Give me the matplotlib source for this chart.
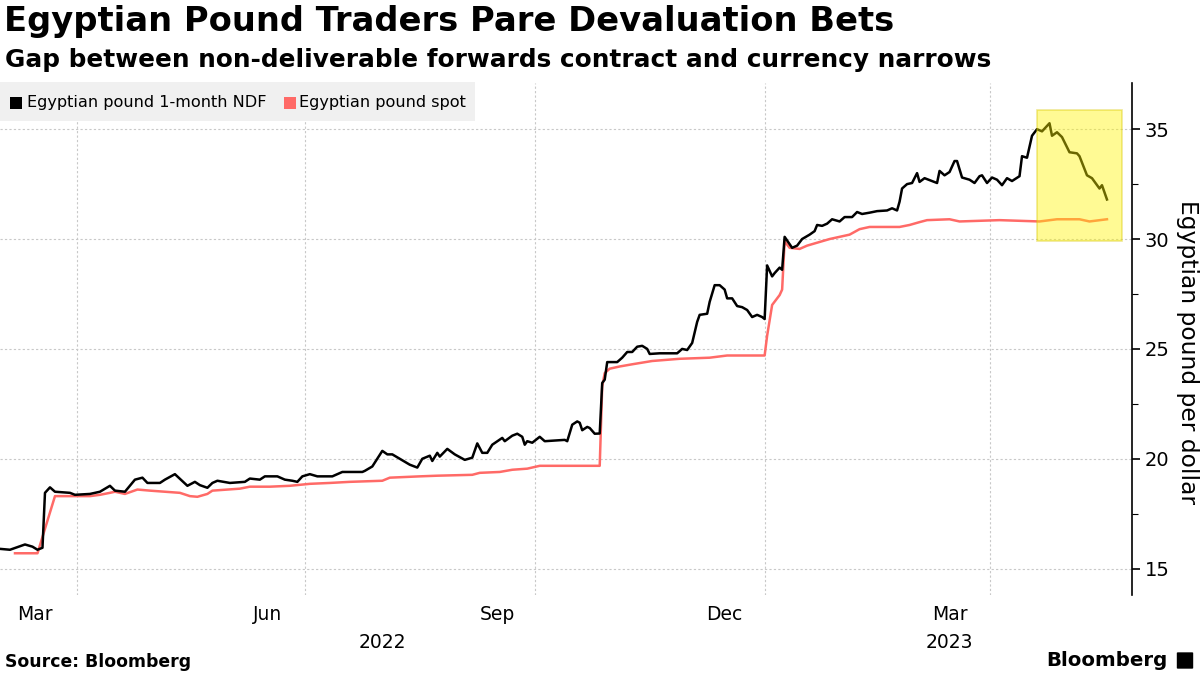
import numpy as np
import pandas as pd
import matplotlib
matplotlib.use('Agg')
import matplotlib.pyplot as plt
import matplotlib.dates as mdates
from matplotlib.patches import Rectangle, FancyBboxPatch

# Egyptian pound 1-month NDF (EGP per USD)
ndf_dates = ['2022-03-01', '2022-03-05', '2022-03-11', '2022-03-14', '2022-03-16', '2022-03-18',
             '2022-03-19', '2022-03-21', '2022-03-23', '2022-03-29', '2022-03-31', '2022-04-06',
             '2022-04-10', '2022-04-14', '2022-04-16', '2022-04-20', '2022-04-24', '2022-04-27',
             '2022-04-29', '2022-05-04', '2022-05-06', '2022-05-10', '2022-05-15', '2022-05-18',
             '2022-05-20', '2022-05-23', '2022-05-25', '2022-05-27', '2022-06-01', '2022-06-07',
             '2022-06-09', '2022-06-13', '2022-06-15', '2022-06-20', '2022-06-23', '2022-06-26',
             '2022-06-28', '2022-06-30', '2022-07-03', '2022-07-06', '2022-07-12', '2022-07-16',
             '2022-07-24', '2022-07-25', '2022-07-28', '2022-08-01', '2022-08-03', '2022-08-05',
             '2022-08-08', '2022-08-12', '2022-08-15', '2022-08-17', '2022-08-20', '2022-08-21',
             '2022-08-23', '2022-08-24', '2022-08-27', '2022-08-30', '2022-09-03', '2022-09-06',
             '2022-09-08', '2022-09-10', '2022-09-12', '2022-09-14', '2022-09-18', '2022-09-19',
             '2022-09-22', '2022-09-24', '2022-09-26', '2022-09-27', '2022-09-28', '2022-09-30',
             '2022-10-03', '2022-10-05', '2022-10-13', '2022-10-14', '2022-10-16', '2022-10-18',
             '2022-10-19', '2022-10-20', '2022-10-22', '2022-10-23', '2022-10-25', '2022-10-27',
             '2022-10-28', '2022-10-29', '2022-10-30', '2022-11-03', '2022-11-05', '2022-11-07',
             '2022-11-09', '2022-11-11', '2022-11-13', '2022-11-15', '2022-11-16', '2022-11-20',
             '2022-11-27', '2022-11-29', '2022-12-01', '2022-12-03', '2022-12-05', '2022-12-06',
             '2022-12-09', '2022-12-10', '2022-12-12', '2022-12-14', '2022-12-16', '2022-12-17',
             '2022-12-19', '2022-12-21', '2022-12-23', '2022-12-25', '2022-12-27', '2022-12-29',
             '2022-12-31', '2023-01-01', '2023-01-02', '2023-01-04', '2023-01-05', '2023-01-07',
             '2023-01-08', '2023-01-09', '2023-01-12', '2023-01-14', '2023-01-16', '2023-01-19',
             '2023-01-21', '2023-01-22', '2023-01-24', '2023-01-26', '2023-01-28', '2023-01-31',
             '2023-02-02', '2023-02-05', '2023-02-07', '2023-02-09', '2023-02-12', '2023-02-15',
             '2023-02-19', '2023-02-21', '2023-02-23', '2023-02-24', '2023-02-25', '2023-02-27',
             '2023-03-01', '2023-03-03', '2023-03-04', '2023-03-06', '2023-03-11', '2023-03-12',
             '2023-03-14', '2023-03-16', '2023-03-18', '2023-03-19', '2023-03-21', '2023-03-24',
             '2023-03-26', '2023-03-28', '2023-03-29', '2023-03-31', '2023-04-02', '2023-04-04',
             '2023-04-06', '2023-04-08', '2023-04-10', '2023-04-13', '2023-04-14', '2023-04-16',
             '2023-04-18', '2023-04-20', '2023-04-22', '2023-04-25', '2023-04-26', '2023-04-28',
             '2023-04-30', '2023-05-03', '2023-05-06', '2023-05-07', '2023-05-10', '2023-05-12',
             '2023-05-15', '2023-05-16', '2023-05-18']
ndf_values = [15.9, 15.86, 16.1, 16.0, 15.86, 15.95,
              18.45, 18.7, 18.5, 18.45, 18.36, 18.4,
              18.5, 18.77, 18.55, 18.5, 19.05, 19.14,
              18.9, 18.9, 19.05, 19.3, 18.77, 18.95,
              18.8, 18.68, 18.9, 19.0, 18.9, 18.95,
              19.1, 19.05, 19.2, 19.2, 19.05, 19.0,
              18.95, 19.2, 19.3, 19.2, 19.2, 19.4,
              19.4, 19.45, 19.65, 20.36, 20.2, 20.2,
              20.0, 19.73, 19.6, 20.0, 20.14, 19.9,
              20.27, 20.1, 20.45, 20.2, 19.95, 20.05,
              20.7, 20.27, 20.27, 20.64, 20.95, 20.8,
              21.05, 21.14, 21.0, 20.64, 20.8, 20.73,
              21.0, 20.8, 20.86, 20.8, 21.55, 21.7,
              21.64, 21.3, 21.45, 21.4, 21.14, 21.15,
              23.45, 23.6, 24.4, 24.4, 24.6, 24.86,
              24.86, 25.1, 25.14, 25.0, 24.77, 24.8,
              24.8, 25.0, 24.95, 25.27, 26.23, 26.55,
              26.6, 27.14, 27.9, 27.9, 27.7, 27.3,
              27.3, 26.95, 26.9, 26.77, 26.45, 26.55,
              26.45, 26.36, 28.8, 28.3, 28.45, 28.7,
              28.6, 30.1, 29.6, 29.7, 30.0, 30.2,
              30.36, 30.64, 30.6, 30.7, 30.9, 30.8,
              31.0, 31.0, 31.23, 31.14, 31.2, 31.27,
              31.3, 31.4, 31.3, 31.7, 32.3, 32.5,
              32.55, 33.0, 32.6, 32.77, 32.55, 33.1,
              32.9, 33.05, 33.55, 33.55, 32.8, 32.7,
              32.55, 32.86, 32.9, 32.55, 32.8, 32.7,
              32.45, 32.77, 32.64, 32.86, 33.77, 33.7,
              34.7, 35.0, 34.9, 35.27, 34.7, 34.86,
              34.64, 33.95, 33.9, 33.77, 32.9, 32.77,
              32.3, 32.45, 31.8]

# Egyptian pound spot (EGP per USD)
spot_dates = ['2022-03-07', '2022-03-16', '2022-03-23', '2022-04-06', '2022-04-10', '2022-04-14',
              '2022-04-16', '2022-04-20', '2022-04-25', '2022-04-30', '2022-05-12', '2022-05-16',
              '2022-05-19', '2022-05-23', '2022-05-25', '2022-06-05', '2022-06-09', '2022-06-17',
              '2022-06-25', '2022-07-03', '2022-07-11', '2022-07-19', '2022-08-01', '2022-08-04',
              '2022-08-16', '2022-08-23', '2022-09-06', '2022-09-09', '2022-09-17', '2022-09-22',
              '2022-09-28', '2022-10-03', '2022-10-27', '2022-10-28', '2022-10-29', '2022-10-31',
              '2022-11-04', '2022-11-09', '2022-11-17', '2022-11-28', '2022-12-10', '2022-12-17',
              '2023-01-01', '2023-01-02', '2023-01-04', '2023-01-07', '2023-01-08', '2023-01-09',
              '2023-01-11', '2023-01-15', '2023-01-18', '2023-01-21', '2023-01-27', '2023-01-31',
              '2023-02-04', '2023-02-08', '2023-02-12', '2023-02-24', '2023-02-28', '2023-03-04',
              '2023-03-07', '2023-03-16', '2023-03-20', '2023-04-05', '2023-04-21', '2023-04-28',
              '2023-05-07', '2023-05-11', '2023-05-18']
spot_values = [15.7, 15.7, 18.3, 18.3, 18.36, 18.45,
               18.5, 18.4, 18.6, 18.55, 18.45, 18.3,
               18.27, 18.4, 18.55, 18.64, 18.73, 18.73,
               18.77, 18.86, 18.9, 18.95, 19.0, 19.14,
               19.2, 19.23, 19.27, 19.36, 19.4, 19.5,
               19.55, 19.68, 19.68, 23.3, 23.9, 24.1,
               24.2, 24.3, 24.45, 24.55, 24.6, 24.7,
               24.7, 25.6, 27.0, 27.45, 27.7, 29.9,
               29.6, 29.55, 29.7, 29.8, 30.0, 30.1,
               30.2, 30.45, 30.55, 30.55, 30.64, 30.77,
               30.86, 30.9, 30.8, 30.86, 30.8, 30.9,
               30.9, 30.8, 30.9]

tick_positions = ['2022-04-01', '2022-07-01', '2022-10-01', '2023-01-01', '2023-04-01']
month_labels = ['Mar', 'Jun', 'Sep', 'Dec', 'Mar']
month_label_dates = ['2022-03-15', '2022-06-16', '2022-09-16', '2022-12-16', '2023-03-16']
year_labels = ['2022', '2023']
year_label_dates = ['2022-08-01', '2023-03-16']
y_ticks = [15, 20, 25, 30, 35]

ndf_x = pd.to_datetime(ndf_dates)
spot_x = pd.to_datetime(spot_dates)

fig = plt.figure(figsize=(12, 6.75), dpi=100)
ax = fig.add_axes([0.0, 0.1185, 0.9433, 0.7585])

ax.plot(spot_x, spot_values, color='#ff6a67', linewidth=1.8, zorder=3)
ax.plot(ndf_x, ndf_values, color='black', linewidth=1.8, zorder=4)

# highlighted recent window
hl_start = mdates.date2num(pd.Timestamp('2023-04-20'))
hl_end = mdates.date2num(pd.Timestamp('2023-05-24'))
hl = Rectangle((hl_start, 29.9), hl_end - hl_start, 5.95,
               facecolor=(1.0, 0.96, 0.0), alpha=0.42, edgecolor='#d8c800',
               linewidth=1.2, zorder=5)
ax.add_patch(hl)

ax.set_xlim(pd.Timestamp('2022-03-01'), pd.Timestamp('2023-05-28'))
ax.set_ylim(13.8, 37.1)

ax.set_xticks(pd.to_datetime(tick_positions))
ax.set_xticklabels([])
ax.tick_params(axis='x', length=0)
ax.grid(True, color='#c8c8c8', linestyle=(0, (2, 2)), linewidth=0.8)

ax.yaxis.tick_right()
ax.set_yticks(y_ticks)
ax.set_yticks([17.5, 22.5, 27.5, 32.5], minor=True)
ax.tick_params(axis='y', which='major', length=6, width=1.2, direction='out', pad=3,
               labelsize=14, colors='black')
ax.tick_params(axis='y', which='minor', length=4, width=0.8, direction='out')

for s in ['left', 'top', 'bottom']:
    ax.spines[s].set_visible(False)
ax.spines['right'].set_linewidth(1.2)

fig.text(1187 / 1200, 1 - 352 / 675, 'Egyptian pound per dollar', fontsize=16.8,
         rotation=270, ha='center', va='center')

for lab, d in zip(month_labels, month_label_dates):
    ax.text(pd.Timestamp(d), -0.02, lab, transform=ax.get_xaxis_transform(),
            ha='center', va='top', fontsize=13.5)
for lab, d in zip(year_labels, year_label_dates):
    ax.text(pd.Timestamp(d), -0.075, lab, transform=ax.get_xaxis_transform(),
            ha='center', va='top', fontsize=13.5)

# legend band
fig.patches.append(Rectangle((0.0, 1 - 121 / 675), 475 / 1200, 39 / 675,
                             transform=fig.transFigure, facecolor='#f0f0f0',
                             edgecolor='none', zorder=1))
fig.patches.append(Rectangle((10 / 1200, 1 - 109 / 675), 12 / 1200, 12 / 675,
                             transform=fig.transFigure, facecolor='black', zorder=2))
fig.text(27 / 1200, 1 - 102 / 675, 'Egyptian pound 1-month NDF', fontsize=11.6,
         va='center', ha='left', zorder=3)
fig.patches.append(Rectangle((284 / 1200, 1 - 109 / 675), 12 / 1200, 12 / 675,
                             transform=fig.transFigure, facecolor='#ff6a67', zorder=2))
fig.text(299 / 1200, 1 - 102 / 675, 'Egyptian pound spot', fontsize=11.6,
         va='center', ha='left', zorder=3)

fig.text(4 / 1200, 1 - 22 / 675, 'Egyptian Pound Traders Pare Devaluation Bets',
         fontsize=24.3, fontweight='bold', va='center', ha='left')
fig.text(5 / 1200, 1 - 60 / 675, 'Gap between non-deliverable forwards contract and currency narrows',
         fontsize=17.85, fontweight='bold', va='center', ha='left')
fig.text(5 / 1200, 1 - 662 / 675, 'Source: Bloomberg', fontsize=12.4, fontweight='bold',
         va='center', ha='left')
fig.text(1167 / 1200, 1 - 661 / 675, 'Bloomberg', fontsize=14.2, fontweight='bold',
         va='center', ha='right')
fig.patches.append(FancyBboxPatch((1178 / 1200, 1 - 668 / 675), 14 / 1200, 15 / 675,
                                  boxstyle='round,pad=0.001', transform=fig.transFigure,
                                  facecolor='black', edgecolor='none'))

fig.savefig('out.png', dpi=100)
